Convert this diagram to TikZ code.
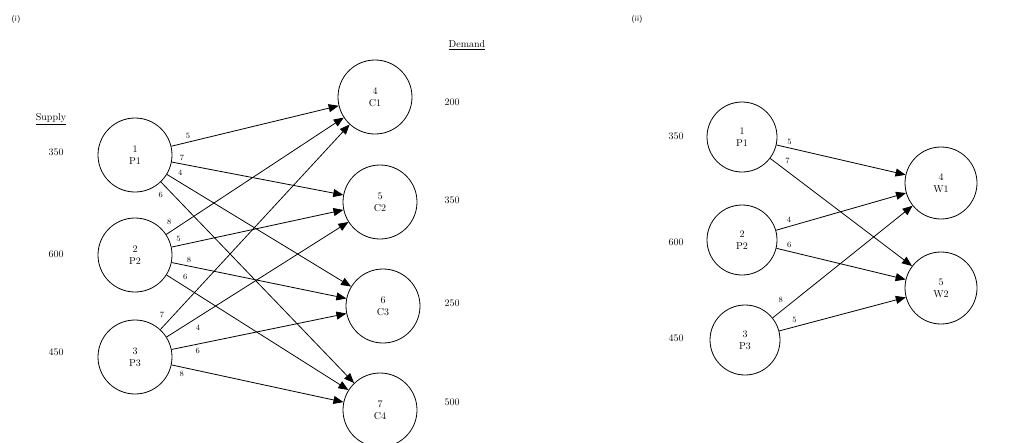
\documentclass[tikz,border=0pt]{standalone}
\usetikzlibrary{arrows.meta}
\begin{document}
\begin{tikzpicture}[x=1pt,y=-1pt,
  vert/.style={circle,draw,thick,minimum size=74pt,align=center,font=\normalsize,inner sep=0pt},
  arc/.style={thick,-{Triangle[length=10pt,width=8pt]}},
  lbl/.style={font=\footnotesize}]
\useasboundingbox (0,0) rectangle (1024,442);
\node[font=\footnotesize\sffamily] at (16,19) {(i)};
\node[font=\footnotesize\sffamily] at (637,19) {(ii)};
% network (i)
\node[font=\normalsize] at (51,119) {\underline{Supply}};
\node[font=\normalsize] at (467,45) {\underline{Demand}};
\node (p1) [vert] at (135,155) {1\\P1};
\node (p2) [vert] at (135,255) {2\\P2};
\node (p3) [vert] at (135,357) {3\\P3};
\node (c1) [vert] at (375,97) {4\\C1};
\node (c2) [vert] at (380,202) {5\\C2};
\node (c3) [vert] at (383,306) {6\\C3};
\node (c4) [vert] at (380,410) {7\\C4};
\foreach \s/\y in {350/152,600/254,450/352}
  \node[font=\normalsize] at (56,\y) {\s};
\foreach \d/\y in {200/102,350/200,250/303,500/402}
  \node[font=\normalsize] at (452,\y) {\d};
\draw[arc] (p1) -- (c1) node[lbl,pos=.1,above] {5};
\draw[arc] (p1) -- (c2) node[lbl,pos=.06,above] {7};
\draw[arc] (p1) -- (c3) node[lbl,pos=.04,above right] {4};
\draw[arc] (p1) -- (c4) node[lbl,pos=.03,below left] {6};
\draw[arc] (p2) -- (c1) node[lbl,pos=.05,above left] {8};
\draw[arc] (p2) -- (c2) node[lbl,pos=.04,above] {5};
\draw[arc] (p2) -- (c3) node[lbl,pos=.1,above] {8};
\draw[arc] (p2) -- (c4) node[lbl,pos=.07,above right] {6};
\draw[arc] (p3) -- (c1) node[lbl,pos=.04,above left] {7};
\draw[arc] (p3) -- (c2) node[lbl,pos=.14,below right] {4};
\draw[arc] (p3) -- (c3) node[lbl,pos=.15,below] {6};
\draw[arc] (p3) -- (c4) node[lbl,pos=.06,below] {8};
% network (ii)
\node (q1) [vert,minimum size=70pt] at (742,137) {1\\P1};
\node (q2) [vert,minimum size=70pt] at (742,240) {2\\P2};
\node (q3) [vert,minimum size=70pt] at (745,340) {3\\P3};
\node (w1) [vert,minimum size=72pt] at (941,183) {4\\W1};
\node (w2) [vert,minimum size=72pt] at (941,288) {5\\W2};
\foreach \s/\y in {350/136,600/242,450/338}
  \node[font=\normalsize] at (676,\y) {\s};
\draw[arc] (q1) -- (w1) node[lbl,pos=.1,above] {5};
\draw[arc] (q1) -- (w2) node[lbl,pos=.08,above right] {7};
\draw[arc] (q2) -- (w1) node[lbl,pos=.1,above] {4};
\draw[arc] (q2) -- (w2) node[lbl,pos=.1,above] {6};
\draw[arc] (q3) -- (w1) node[lbl,pos=.1,above left] {8};
\draw[arc] (q3) -- (w2) node[lbl,pos=.12,above] {5};
\end{tikzpicture}
\end{document}
